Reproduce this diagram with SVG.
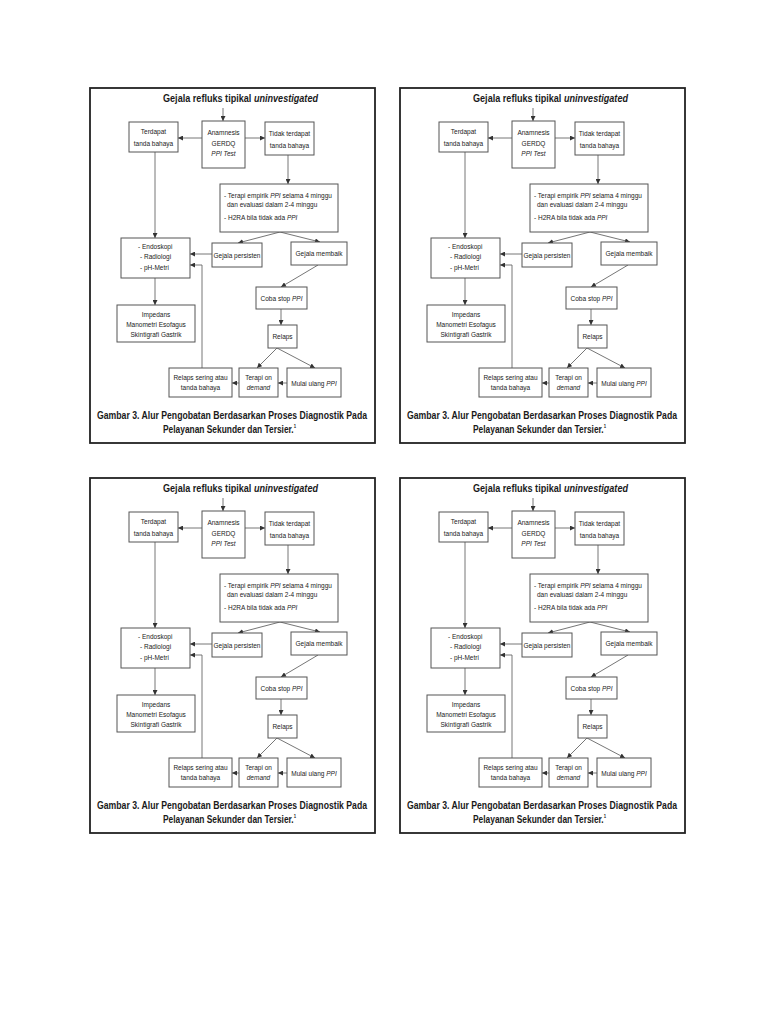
<svg xmlns="http://www.w3.org/2000/svg" xmlns:xlink="http://www.w3.org/1999/xlink" width="768" height="1024" viewBox="0 0 768 1024">
<style>
.frame{fill:#fff;stroke:#222;stroke-width:1.8}
.box{fill:#fff;stroke:#555;stroke-width:1}
.ln{fill:none;stroke:#666;stroke-width:0.9}
.t{font-family:"Liberation Sans",Arial,sans-serif;font-size:6.5px;fill:#222}
.c{text-anchor:middle}
.i{font-style:italic}
.hd{font-family:"Liberation Sans",Arial,sans-serif;font-weight:bold;fill:#1a1a1a}
</style>
<defs>
<marker id="ah" viewBox="0 0 10 10" refX="10" refY="5" markerWidth="5" markerHeight="5" markerUnits="userSpaceOnUse" orient="auto">
<path d="M0,0 L10,5 L0,10 z" fill="#333"/>
</marker>
</defs>
<rect width="768" height="1024" fill="#fff"/>
<g id="panel1">
<rect class="frame" x="90" y="88" width="285" height="355"/>
<text class="hd" x="163" y="102" font-size="10.5" textLength="155" lengthAdjust="spacingAndGlyphs">Gejala refluks tipikal <tspan class="i">uninvestigated</tspan></text>
<g id="connectors">
<line class="ln" x1="223" y1="108" x2="223" y2="121" marker-end="url(#ah)"/>
<line class="ln" x1="202" y1="138" x2="178" y2="138" marker-end="url(#ah)"/>
<line class="ln" x1="245" y1="138" x2="265" y2="138" marker-end="url(#ah)"/>
<line class="ln" x1="288" y1="155" x2="288" y2="184" marker-end="url(#ah)"/>
<line class="ln" x1="155" y1="152" x2="155" y2="238" marker-end="url(#ah)"/>
<line class="ln" x1="280" y1="232" x2="238" y2="243" marker-end="url(#ah)"/>
<line class="ln" x1="280" y1="232" x2="320" y2="242" marker-end="url(#ah)"/>
<line class="ln" x1="212" y1="254" x2="190" y2="254" marker-end="url(#ah)"/>
<line class="ln" x1="318" y1="265" x2="281" y2="287" marker-end="url(#ah)"/>
<line class="ln" x1="281" y1="309" x2="281" y2="325" marker-end="url(#ah)"/>
<line class="ln" x1="155" y1="278" x2="155" y2="305" marker-end="url(#ah)"/>
<line class="ln" x1="277" y1="348" x2="257" y2="368" marker-end="url(#ah)"/>
<line class="ln" x1="277" y1="348" x2="315" y2="368" marker-end="url(#ah)"/>
<line class="ln" x1="287" y1="383" x2="278" y2="383" marker-end="url(#ah)"/>
<line class="ln" x1="239" y1="383" x2="232" y2="383" marker-end="url(#ah)"/>
<polyline class="ln" points="202,368 202,265 190,265" marker-end="url(#ah)"/>
</g>
<g id="n-terdapat"><rect class="box" x="129" y="122" width="49" height="30"/>
<text class="t c" x="153.5" y="134">Terdapat</text><text class="t c" x="153.5" y="146">tanda bahaya</text></g>
<g id="n-anamnesis"><rect class="box" x="202" y="121" width="43" height="47"/>
<text class="t c" x="223.5" y="135">Anamnesis</text><text class="t c" x="223.5" y="145.5">GERDQ</text><text class="t c i" x="223.5" y="156">PPI Test</text></g>
<g id="n-tidak"><rect class="box" x="265" y="122" width="49" height="33"/>
<text class="t c" x="289.5" y="135.5">Tidak terdapat</text><text class="t c" x="289.5" y="148">tanda bahaya</text></g>
<g id="n-terapi"><rect class="box" x="220" y="184" width="118" height="48"/>
<text class="t" x="224" y="198">- Terapi empirik <tspan class="i">PPI</tspan> selama 4 minggu</text>
<text class="t" x="227" y="206.5">dan evaluasi dalam 2-4 minggu</text>
<text class="t" x="224" y="220">- H2RA bila tidak ada <tspan class="i">PPI</tspan></text></g>
<g id="n-endoskopi"><rect class="box" x="121" y="238" width="69" height="40"/>
<text class="t" x="138" y="248.5">- Endoskopi</text><text class="t" x="140" y="259">- Radiologi</text><text class="t" x="140" y="269.5">- pH-Metri</text></g>
<g id="n-persisten"><rect class="box" x="212" y="243" width="50" height="24"/>
<text class="t c" x="237" y="257.5">Gejala persisten</text></g>
<g id="n-membaik"><rect class="box" x="291" y="242" width="56" height="23"/>
<text class="t c" x="319" y="256">Gejala membaik</text></g>
<g id="n-coba"><rect class="box" x="256" y="287" width="51" height="22"/>
<text class="t c" x="281.5" y="300.5">Coba stop <tspan class="i">PPI</tspan></text></g>
<g id="n-impedans"><rect class="box" x="117" y="305" width="78" height="37"/>
<text class="t c" x="156" y="317">Impedans</text><text class="t c" x="156" y="327">Manometri Esofagus</text><text class="t c" x="156" y="336.5">Skintigrafi Gastrik</text></g>
<g id="n-relaps"><rect class="box" x="268" y="325" width="29" height="23"/>
<text class="t c" x="282.5" y="339">Relaps</text></g>
<g id="n-sering"><rect class="box" x="169" y="368" width="63" height="29"/>
<text class="t c" x="200.5" y="380">Relaps sering atau</text><text class="t c" x="200.5" y="390">tanda bahaya</text></g>
<g id="n-ondemand"><rect class="box" x="239" y="368" width="39" height="29"/>
<text class="t c" x="258.5" y="380">Terapi on</text><text class="t c i" x="258.5" y="390">demand</text></g>
<g id="n-mulai"><rect class="box" x="287" y="368" width="54" height="29"/>
<text class="t c" x="314" y="385.5">Mulai ulang <tspan class="i">PPI</tspan></text></g>
<text class="hd c" x="232" y="418.5" font-size="10" textLength="270" lengthAdjust="spacingAndGlyphs">Gambar 3. Alur Pengobatan Berdasarkan Proses Diagnostik Pada</text>
<text class="hd" x="163" y="432.5" font-size="10" textLength="133" lengthAdjust="spacingAndGlyphs">Pelayanan Sekunder dan Tersier.<tspan font-size="5" dy="-5">1</tspan></text>
</g>
<use xlink:href="#panel1" href="#panel1" x="310" y="0"/>
<use xlink:href="#panel1" href="#panel1" x="0" y="390"/>
<use xlink:href="#panel1" href="#panel1" x="310" y="390"/>
</svg>
